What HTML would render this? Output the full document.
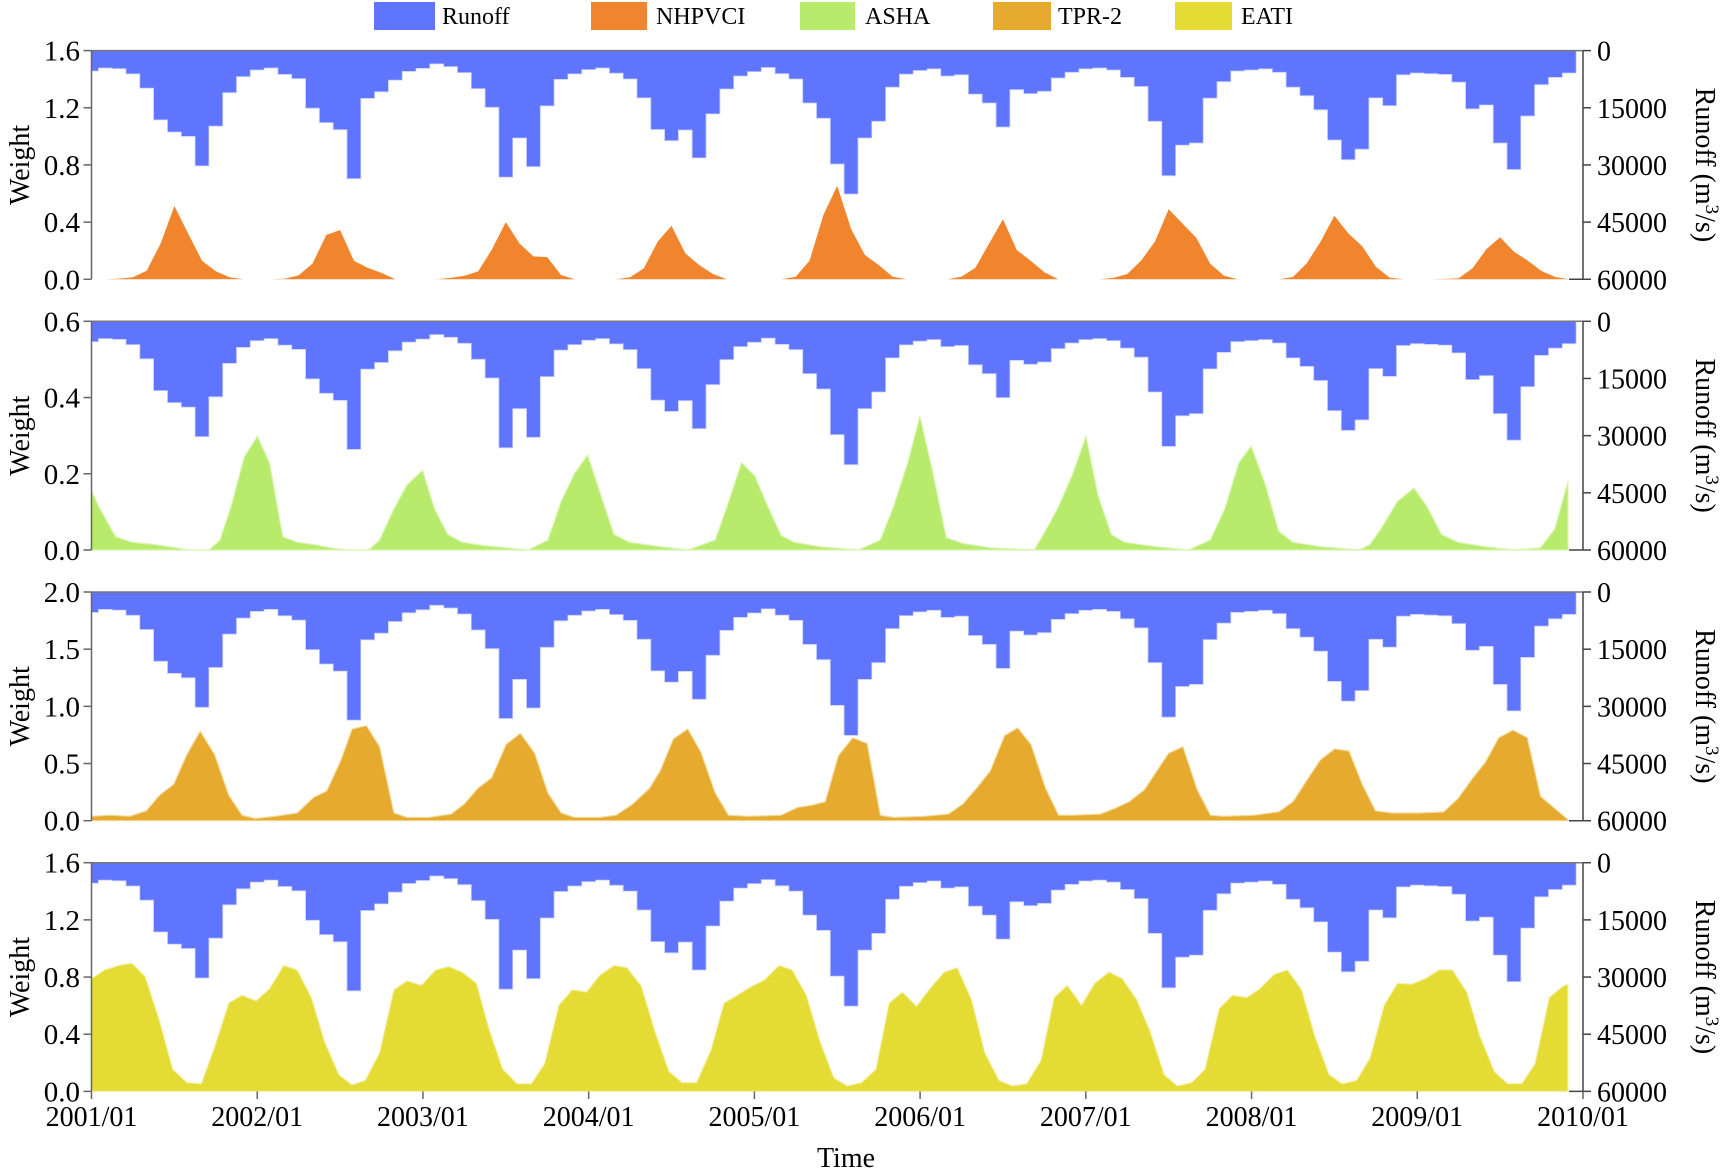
<!DOCTYPE html>
<html><head><meta charset="utf-8"><style>
html,body{margin:0;padding:0;background:#fff;}
svg, svg text{font-family:"Liberation Serif","Times New Roman",serif;}
</style></head><body>
<svg id="s" width="1725" height="1171" viewBox="0 0 1725 1171" xmlns="http://www.w3.org/2000/svg" font-family="Liberation Serif, serif">
<g font-size="24" fill="#000">
<rect x="374" y="2" width="61" height="28" fill="#5F75FE"/><text x="442" y="24">Runoff</text>
<rect x="591" y="2" width="56" height="28" fill="#F0852D"/><text x="656" y="24">NHPVCI</text>
<rect x="800" y="2" width="55" height="28" fill="#B8EB6C"/><text x="865" y="24">ASHA</text>
<rect x="993" y="2" width="58" height="28" fill="#E5AA2E"/><text x="1058" y="24">TPR-2</text>
<rect x="1175" y="2" width="57" height="28" fill="#E5DB35"/><text x="1241" y="24">EATI</text>
</g>
<g id="plots"></g>
<g font-size="28" text-anchor="middle">
<text x="91.5" y="1126">2001/01</text><text x="257.2" y="1126">2002/01</text><text x="422.9" y="1126">2003/01</text>
<text x="588.6" y="1126">2004/01</text><text x="754.4" y="1126">2005/01</text><text x="920.1" y="1126">2006/01</text>
<text x="1085.8" y="1126">2007/01</text><text x="1251.5" y="1126">2008/01</text><text x="1417.2" y="1126">2009/01</text>
<text x="1583" y="1126">2010/01</text>
<text x="846" y="1167">Time</text>
</g>
</svg>
<script>
var NS="http://www.w3.org/2000/svg";
var G=document.getElementById("plots");
function el(t,a,txt){var e=document.createElementNS(NS,t);for(var k in a)e.setAttribute(k,a[k]);if(t=="text")e.setAttribute("font-family","Liberation Serif, serif");if(txt!==undefined)e.textContent=txt;G.appendChild(e);return e;}
var X0=91.5,DX=13.81,XR=1583,H=228.7,T=[50.6,321.3,592,862.7];
function X(k){return X0+DX*k;}
var f=[.089,.076,.079,.102,.164,.303,.356,.375,.504,.330,.184,.114,
.085,.076,.104,.123,.252,.315,.346,.560,.209,.180,.129,.091,
.078,.058,.070,.096,.166,.248,.553,.382,.507,.242,.126,.102,
.083,.076,.099,.124,.207,.345,.394,.347,.469,.277,.168,.111,
.092,.074,.101,.124,.229,.296,.496,.627,.382,.309,.160,.103,
.087,.080,.111,.106,.190,.229,.334,.171,.188,.178,.120,.095,
.080,.076,.085,.117,.157,.309,.547,.413,.404,.208,.136,.089,
.085,.080,.095,.160,.197,.259,.391,.477,.431,.207,.241,.106,
.098,.101,.104,.138,.255,.238,.404,.520,.286,.149,.117,.098];
var orange={1:0,2:.005,3:.014,4:.06,5:.25,6:.513,7:.32,8:.13,9:.056,10:.014,11:0,
13:0,14:.005,15:.027,16:.11,17:.31,18:.345,19:.13,20:.08,21:.045,22:0,
25:0,26:.01,27:.025,28:.055,29:.21,30:.40,31:.25,32:.16,33:.155,34:.03,35:0,
38:0,39:.014,40:.077,41:.264,42:.375,43:.182,44:.10,45:.037,46:0,
50:0,51:.019,52:.131,53:.45,54:.655,55:.352,56:.17,57:.10,58:.019,59:0,
62:0,63:.019,64:.08,65:.25,66:.42,67:.205,68:.13,69:.05,70:0,
73:0,74:.01,75:.037,76:.131,77:.264,78:.49,79:.39,80:.29,81:.11,82:.026,83:0,
86:0,87:.016,88:.112,89:.264,90:.445,91:.322,92:.233,93:.089,94:.012,95:0,
97:0,98:.003,99:.007,100:.077,101:.21,102:.294,103:.194,104:.131,105:.058,106:.016,107:0};
var op=[];for(var k in orange)op.push([+k,orange[k]]);op.sort(function(a,b){return a[0]-b[0];});
function D(xd){return (xd-83.2)/12.55;}
function conv(arr,top,bot,max){return arr.map(function(p){return [D(p[0]),(bot-p[1])/(bot-top)*max];});}
var green=conv([[83,445],[90,460],[105,487],[120,492],[140,494],[160,497],[172,499],[190,499],[200,490],[210,460],[222,415],[234,396],[245,420],[257,487],[270,492],[285,494],[300,497],[315,499],[335,499],[345,490],[358,462],[370,440],[384,427],[395,462],[407,485],[420,492],[440,495],[480,499],[498,490],[510,455],[522,430],[534,413],[548,455],[558,485],[572,492],[600,496],[625,499],[650,490],[660,462],[674,420],[686,432],[698,460],[710,486],[722,492],[745,496],[780,499],[800,490],[812,460],[825,420],[836,378],[848,430],[860,488],[875,493],[900,497],[940,499],[950,482],[962,460],[975,430],[987,396],[998,450],[1010,485],[1022,492],[1050,496],[1080,499],[1100,490],[1113,462],[1126,420],[1137,405],[1150,440],[1162,482],[1175,492],[1200,496],[1235,499],[1245,494],[1255,480],[1270,455],[1285,443],[1297,460],[1310,485],[1325,492],[1350,496],[1375,499],[1400,497],[1413,480],[1425,437]],292,499,0.6);
var tan=conv([[83,741],[100,740],[118,741],[133,736],[145,722],[158,712],[170,685],[182,664],[195,685],[208,722],[220,740],[232,743],[250,741],[270,738],[285,724],[297,718],[310,690],[320,662],[333,659],[345,678],[358,738],[370,742],[390,742],[410,739],[422,730],[434,716],[447,706],[460,676],[473,666],[486,684],[498,720],[510,738],[522,742],[545,742],[560,740],[575,730],[590,716],[600,700],[612,671],[625,662],[637,683],[650,720],[662,740],[680,741],[710,740],[725,733],[738,731],[750,728],[762,686],[775,670],[788,675],[800,740],[812,742],[840,741],[862,739],[875,730],[888,715],[900,700],[913,668],[925,661],[937,676],[950,715],[962,740],[975,740],[1000,739],[1013,734],[1026,728],[1040,717],[1050,702],[1062,684],[1075,678],[1088,717],[1100,740],[1112,741],[1140,740],[1162,737],[1175,728],[1188,708],[1200,690],[1213,680],[1226,682],[1238,712],[1250,736],[1265,738],[1290,738],[1312,737],[1325,725],[1338,707],[1350,692],[1362,670],[1375,663],[1388,670],[1400,723],[1425,744]],538,745,2);
var yel=conv([[83,888],[95,880],[108,876],[120,874],[132,886],[145,926],[157,970],[170,982],[183,983],[195,950],[208,910],[220,903],[233,908],[245,897],[258,876],[270,880],[283,905],[295,945],[308,975],[320,984],[332,980],[345,955],[358,898],[370,890],[383,894],[396,880],[408,877],[420,882],[433,892],[445,935],[457,970],[470,983],[483,983],[495,965],[508,912],[520,898],[533,900],[545,885],[558,876],[570,878],[583,895],[595,935],[608,972],[620,982],[633,982],[646,953],[658,910],[670,903],[683,895],[695,889],[708,876],[720,880],[733,903],[745,944],[758,978],[770,985],[783,982],[796,970],[808,910],[820,900],[833,913],[845,897],[858,882],[870,878],[883,907],[895,955],[908,980],[920,985],[933,983],[946,962],[958,905],[970,894],[983,912],[995,892],[1008,882],[1020,888],[1033,907],[1045,935],[1058,975],[1070,985],[1083,982],[1095,970],[1108,915],[1120,903],[1133,905],[1145,897],[1158,884],[1170,880],[1183,898],[1195,940],[1208,975],[1220,983],[1233,980],[1245,960],[1258,912],[1270,892],[1283,893],[1295,888],[1308,880],[1320,880],[1333,900],[1345,940],[1358,972],[1370,983],[1383,983],[1395,965],[1408,905],[1420,895],[1425,893]],783,990,1.6);
var series=[[op,1.6,"#F0852D","none",[0,.4,.8,1.2,1.6]],[green,0.6,"#B8EB6C","#d8f5b0",[0,.2,.4,.6]],[tan,2,"#E5AA2E","#f3d99a",[0,.5,1,1.5,2]],[yel,1.6,"#E5DB35","#f4efa8",[0,.4,.8,1.2,1.6]]];
for(var p=0;p<4;p++){
 var t=T[p],b=t+H,s=series[p];
 var d="M"+X0+","+t;
 for(var k=0;k<108;k++){var xa=Math.max(X0,X(k-0.5)),xb=X(k+0.5),y=(t+f[k]*H).toFixed(1);d+=" L"+xa.toFixed(1)+","+y+" L"+xb.toFixed(1)+","+y;}
 d+=" L"+X(107.5).toFixed(1)+","+t+" Z";
 el("path",{d:d,fill:"#5F75FE",stroke:"#c3cbff","stroke-width":"0.8"});
 var pts=s[0],mx=s[1];
 var d2="M"+X(pts[0][0]).toFixed(1)+","+b;
 pts.forEach(function(q){var w=Math.max(0,q[1]);d2+=" L"+X(q[0]).toFixed(1)+","+(b-w/mx*H).toFixed(1);});
 d2+=" L"+X(pts[pts.length-1][0]).toFixed(1)+","+b+" Z";
 el("path",{d:d2,fill:s[2],stroke:s[3],"stroke-width":"1.2"});
 el("line",{x1:X0,y1:t,x2:XR,y2:t,stroke:"#777","stroke-width":"1.5"});
 el("line",{x1:X0,y1:t,x2:X0,y2:b,stroke:"#666","stroke-width":"1.5"});
 el("line",{x1:XR,y1:t,x2:XR,y2:b,stroke:"#444","stroke-width":"1.5"});
 s[4].forEach(function(v){var y=b-v/mx*H;el("line",{x1:X0-8,y1:y,x2:X0,y2:y,stroke:"#666","stroke-width":"1.5"});
  el("text",{x:80,y:y+10,"font-size":"29","text-anchor":"end"},v.toFixed(1));});
 [0,15000,30000,45000,60000].forEach(function(v,i){var y=t+v/60000*H;el("line",{x1:(i==4?XR-14:XR),y1:y,x2:XR+8,y2:y,stroke:"#444","stroke-width":"1.5"});
  el("text",{x:1597,y:y+10,"font-size":"28"},String(v));});
 var cy=t+H/2;
 el("text",{x:0,y:0,"font-size":"28","text-anchor":"middle",transform:"translate(29,"+cy+") rotate(-90)"},"Weight");
 var tt=el("text",{x:0,y:0,"font-size":"28","text-anchor":"middle",transform:"translate(1696,"+cy+") rotate(90)"});
 tt.innerHTML='Runoff (m<tspan dy="-10" font-size="19">3</tspan><tspan dy="10">/s)</tspan>';
}
for(var yr=0;yr<=9;yr++){var x=X0+yr*165.72;el("line",{x1:x,y1:1091.4,x2:x,y2:1099,stroke:"#666","stroke-width":"1.5"});}
</script>
</body></html>
